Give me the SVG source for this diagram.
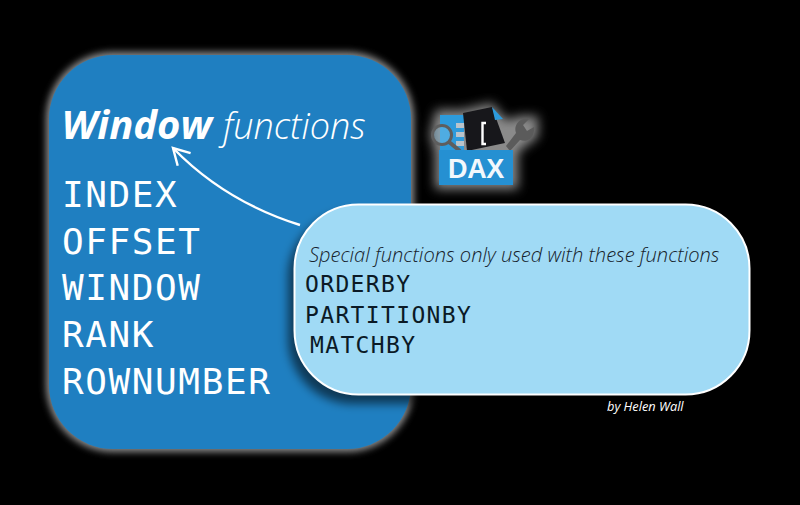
<svg xmlns="http://www.w3.org/2000/svg" width="800" height="505" viewBox="0 0 800 505">
<style>
.mono{font-family:"DejaVu Sans Mono","Liberation Mono",monospace}
.big{font-size:36px;letter-spacing:1.6px;fill:#fff}
.small{font-size:23px;letter-spacing:1.35px;fill:#0b1a26}
.hum{font-family:"Open Sans","Noto Sans",sans-serif;font-style:italic}
</style>
<defs>
<filter id="glow" x="-15%" y="-15%" width="130%" height="130%"><feGaussianBlur stdDeviation="3.500"/></filter>
<filter id="shadow" x="-10%" y="-15%" width="120%" height="135%"><feGaussianBlur stdDeviation="5"/></filter>
<filter id="iconglow" x="-40%" y="-40%" width="180%" height="180%"><feGaussianBlur stdDeviation="5.500"/></filter>
<marker id="arrow" markerUnits="userSpaceOnUse" markerWidth="22" markerHeight="24" refX="18" refY="11" orient="auto"><path d="M2 2 L18 11 L2 20" fill="none" stroke="#fff" stroke-width="2.4"/></marker>
</defs>
<rect width="800" height="505" fill="#000"/>
<g id="window-panel">
<rect x="46" y="52" width="368" height="400" rx="67" fill="#8c8c8c" filter="url(#glow)"/>
<rect x="49" y="55" width="362" height="394" rx="64" fill="#1f7fc1"/>
<text class="hum" x="61.500" y="139" fill="#fff" font-size="40" font-weight="700">Window</text>
<text class="hum" x="223" y="139" fill="#fff" font-size="36" font-weight="300">functions</text>
<text class="mono big" x="62" y="207">INDEX</text>
<text class="mono big" x="62" y="254">OFFSET</text>
<text class="mono big" x="62" y="300">WINDOW</text>
<text class="mono big" x="62" y="347">RANK</text>
<text class="mono big" x="62" y="394">ROWNUMBER</text>
</g>
<g id="connectors">
<path d="M300 225 C252 210 208 184 173 148" fill="none" stroke="#fff" stroke-width="2.4" marker-end="url(#arrow)"/>
</g>
<g id="dax-icon">
<path d="M436 110H462L492 103L506 120L520 116H538V137L518 152V189H435V152L430 135Z" fill="#8a8a8a" filter="url(#iconglow)"/>
<path d="M440 115H464V152H440Z" fill="#2d9bdc"/>
<path d="M456 123h8v5h-8zM456 132h8v5h-8zM456 141h8v5h-8z" fill="#b9c4cc"/>
<path d="M463 113L492 107L505 143L467 151Z" fill="#17171b"/>
<path d="M492 107L503 119L495 120Z" fill="#2d9bdc"/>
<path d="M486 123h-3.500v21h3.500" fill="none" stroke="#fff" stroke-width="2.400"/>
<circle cx="442" cy="135" r="9.500" fill="#8ecbee" fill-opacity=".35" stroke="#5e5e5e" stroke-width="3"/>
<path d="M449 142L460 151" stroke="#5e5e5e" stroke-width="4"/>
<path d="M506 146L516 133C513 125 520 117 530 118L523 125L527 131L534 127C535 137 528 143 520 140L510 151Z" fill="#5b5b5b"/>
<rect x="439" y="150" width="74" height="35" fill="#2590d2"/>
<text x="476" y="177.500" text-anchor="middle" font-family="'Liberation Sans',sans-serif" font-weight="700" font-size="27" letter-spacing="-.4" fill="#f2f8fc">DAX</text>
</g>
<g id="special-panel">
<rect x="288" y="212" width="450" height="192" rx="65" fill="#000" fill-opacity=".55" filter="url(#shadow)"/>
<rect x="294.500" y="204.500" width="455" height="190" rx="64" fill="#a0daf5" stroke="#fff" stroke-width="2"/>
<text class="hum" x="309" y="262" font-size="20.100" font-weight="300" fill="#16222c">Special functions only used with these functions</text>
<text class="mono small" x="305" y="292">ORDERBY</text>
<text class="mono small" x="305" y="323">PARTITIONBY</text>
<text class="mono small" x="310" y="353">MATCHBY</text>
</g>
<g id="credit">
<text class="hum" x="607" y="411" font-size="12.800" fill="#fff">by Helen Wall</text>
</g>
</svg>
